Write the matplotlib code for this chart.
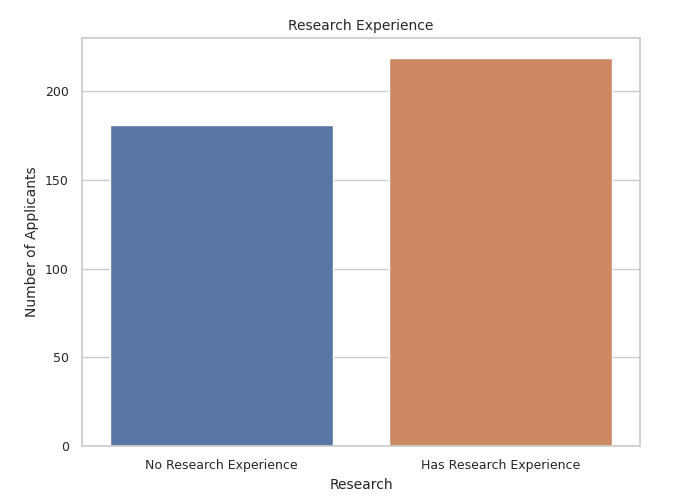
import matplotlib
matplotlib.use("Agg")
import matplotlib.pyplot as plt
import seaborn as sns

categories = ["No Research Experience", "Has Research Experience"]
counts = [181, 219]
colors = ["#4c72b0", "#dd8452"]

sns.set_theme(style="whitegrid")
plt.rcParams['font.family'] = ['DejaVu Sans']
fig = plt.figure(figsize=(6.89, 5.04), dpi=100)
ax = fig.add_axes([82/689, 58/504, 558/689, 408/504])
ax.bar(categories, counts, color=colors, width=0.8, saturation=0.75) if False else None
sns.barplot(x=categories, y=counts, hue=categories, palette=colors, ax=ax, legend=False)
ax.set_title("Research Experience", fontsize=10)
ax.set_xlabel("Research", fontsize=10)
ax.set_ylabel("Number of Applicants", fontsize=10)
ax.tick_params(labelsize=9)
ax.set_ylim(0, 230)
ax.set_yticks([0, 50, 100, 150, 200])
fig.savefig("out.png", dpi=100)
